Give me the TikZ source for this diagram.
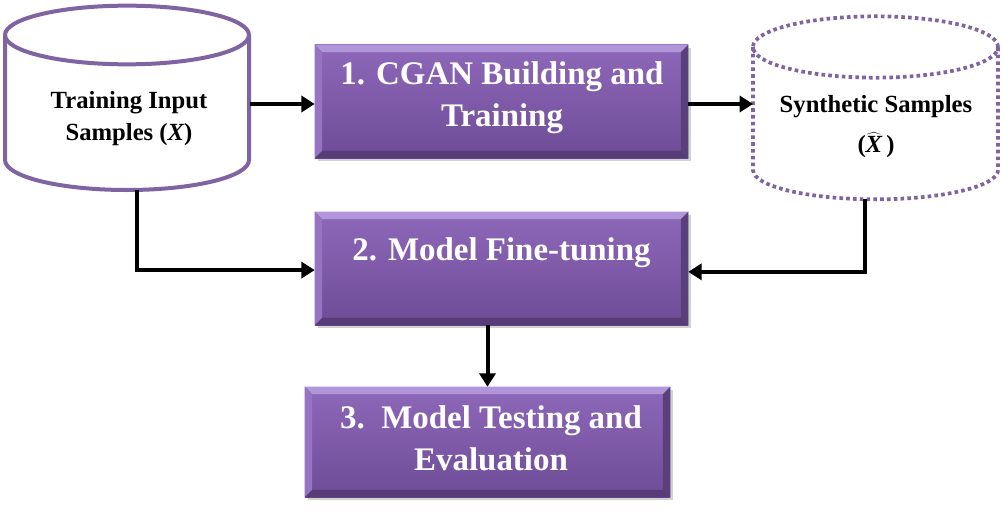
\documentclass[tikz,border=0pt]{standalone}
\usepackage{fontspec}
\setmainfont{Liberation Serif}
\usetikzlibrary{arrows.meta,shadows,calc}
\definecolor{cylpurple}{RGB}{128,100,162}
\definecolor{boxtop}{RGB}{142,104,186}
\definecolor{boxbot}{RGB}{110,76,150}
\definecolor{bevlight}{RGB}{178,150,218}
\definecolor{bevside}{RGB}{150,115,195}
\definecolor{bevdark}{RGB}{88,60,120}
\tikzset{
  x=0.75pt, y=-0.75pt,
  stagebox/.style={draw=none, top color=boxtop, bottom color=boxbot,
    drop shadow={opacity=0.35, shadow xshift=2.2pt, shadow yshift=-2.2pt},
    inner sep=0pt},
  stagetext/.style={text=white, align=center, inner sep=0pt,
    font=\fontsize{24.7}{31.5}\selectfont\bfseries},
  cyltext/.style={align=center, inner sep=0pt, text=black,
    font=\fontsize{18.5}{24}\selectfont\bfseries},
  solidcyl/.style={draw=cylpurple, line width=3pt},
  dotcyl/.style={draw=cylpurple, line width=2.8pt, dash pattern=on 2.7pt off 2.4pt},
  conn/.style={draw=black, line width=3pt, -{Triangle[length=10pt,width=12pt]}},
}
\newcommand\bevelof[1]{%
  \fill[bevlight] (#1.north west) -- (#1.north east) -- ([xshift=-5.5pt,yshift=-5.5pt]#1.north east) -- ([xshift=5.5pt,yshift=-5.5pt]#1.north west) -- cycle;
  \fill[bevside] (#1.north west) -- ([xshift=5.5pt,yshift=-5.5pt]#1.north west) -- ([xshift=5.5pt,yshift=5.5pt]#1.south west) -- (#1.south west) -- cycle;
  \fill[bevdark] (#1.south west) -- (#1.south east) -- ([xshift=-5.5pt,yshift=5.5pt]#1.south east) -- ([xshift=5.5pt,yshift=5.5pt]#1.south west) -- cycle;
  \fill[bevdark!85!boxbot] (#1.north east) -- ([xshift=-5.5pt,yshift=-5.5pt]#1.north east) -- ([xshift=-5.5pt,yshift=5.5pt]#1.south east) -- (#1.south east) -- cycle;
}
\begin{document}
\begin{tikzpicture}
\useasboundingbox[fill=white] (0,0) rectangle (1003,510);

% left cylinder (solid)
\draw[solidcyl] (127,35) ellipse [x radius=91.5pt, y radius=22pt];
\draw[solidcyl] (5,35) -- (5,160) arc[start angle=180, end angle=360, x radius=91.5pt, y radius=22.5pt] -- (249,35);
\node[cyltext] (cylL) at (129,119) {Training Input\\Samples ($\hbox{\bfseries\itshape X}$)};

% right cylinder (dotted)
\draw[dotcyl] (875.5,47) ellipse [x radius=91.9pt, y radius=23pt];
\draw[dotcyl] (753,47) -- (753,170) arc[start angle=180, end angle=360, x radius=91.9pt, y radius=22pt] -- (998,47);
\node[cyltext] (cylR) at (876,107) {Synthetic Samples};
\node[cyltext] (cylRx) at (876,145) {($\widehat{\hbox{\bfseries\itshape X}}$\,)};

% stage boxes
\node[stagebox, minimum width=279.75pt, minimum height=84.75pt] (box1) at (501.5,101.5) {};
\bevelof{box1}
\node[stagetext] (t1) at (502,98) {1. CGAN Building and\\Training};

\node[stagebox, minimum width=279.75pt, minimum height=84.75pt] (box2) at (501.5,268.5) {};
\bevelof{box2}
\node[stagetext] (t2) at (501.5,253) {2. Model Fine-tuning};

\node[stagebox, minimum width=273.75pt, minimum height=82.5pt] (box3) at (487.5,442) {};
\bevelof{box3}
\node[stagetext] (t3) at (491,438) {3.\ \ Model Testing and\\Evaluation};

% connection points on the cylinders
\coordinate (lright) at (250,104);
\coordinate (rleft) at (753,104);
\coordinate (lbot) at (137,190);
\coordinate (rbot) at (865,199);

% connectors
\draw[conn] (lright) -- (lright -| box1.west);
\draw[conn] (lright -| box1.east) -- (rleft);
\draw[conn] (lbot) |- ([yshift=-1.2pt]box2.west);
\draw[conn] (rbot) |- ([yshift=-2.5pt]box2.east);
\draw[conn] (box2.south -| box3.north) -- (box3.north);
\end{tikzpicture}
\end{document}
